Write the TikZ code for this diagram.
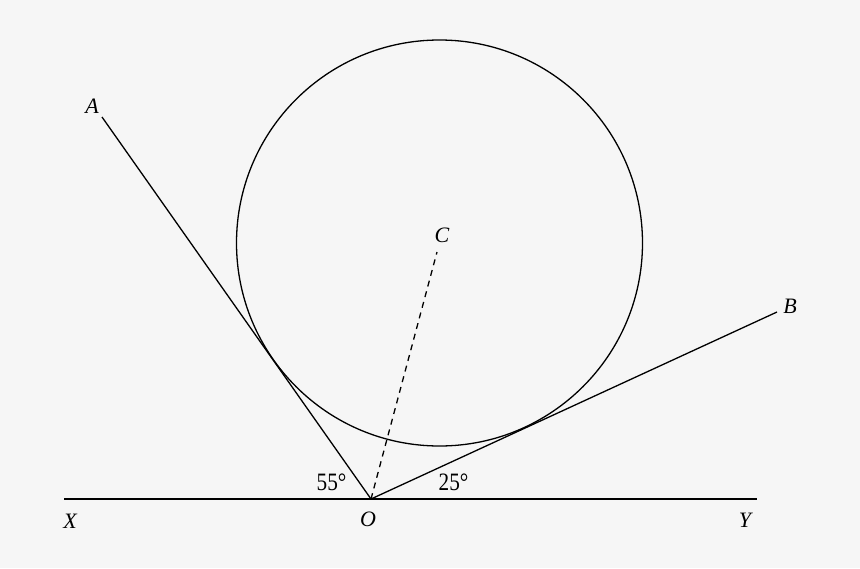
\documentclass[tikz,border=0pt]{standalone}
\usepackage{graphicx}
\usepackage{fontspec}
\setmainfont{Liberation Serif}
\begin{document}
\begin{tikzpicture}[x=1pt,y=-1pt,
  geo/.style={line width=1.3pt,black},
  lbl/.style={font=\fontsize{22}{24}\selectfont\itshape,inner sep=0pt},
  ang/.style={font=\fontsize{25}{27}\selectfont,inner sep=0pt}]
\fill[gray!7] (0,0) rectangle (860,568);
\useasboundingbox (0,0) rectangle (860,568);
\coordinate (O) at (371,499);
\coordinate (Xe) at (64,499);
\coordinate (Ye) at (757,499);
\coordinate (Ae) at (102,117);
\coordinate (Be) at (777,312);
\coordinate (Cc) at (439.5,243);
\coordinate (Ce) at (437,252);
\draw[geo] (Xe) -- (Ye);
\draw[geo] (O) -- (Ae);
\draw[geo] (O) -- (Be);
\draw[geo] (Cc) circle (203);
\draw[geo,dashed,dash pattern=on 6pt off 5pt] (O) -- (Ce);
\node[lbl] (A) at (92,106) {\fontsize{22}{24}\selectfont A};
\node[lbl] (B) at (790,306) {\fontsize{22}{24}\selectfont B};
\node[lbl] (C) at (442,235) {\fontsize{22}{24}\selectfont C};
\node[lbl] (X) at (70,521) {\fontsize{22}{24}\selectfont X};
\node[lbl] (Ol) at (368,519) {\fontsize{22}{24}\selectfont O};
\node[lbl] (Y) at (745,520) {\fontsize{22}{24}\selectfont Y};
\node[ang] (a55) at (331.5,482) {\fontsize{25}{27}\selectfont\scalebox{0.85}[1]{55°}};
\node[ang] (a25) at (453.5,482) {\fontsize{25}{27}\selectfont\scalebox{0.85}[1]{25°}};
\end{tikzpicture}
\end{document}
